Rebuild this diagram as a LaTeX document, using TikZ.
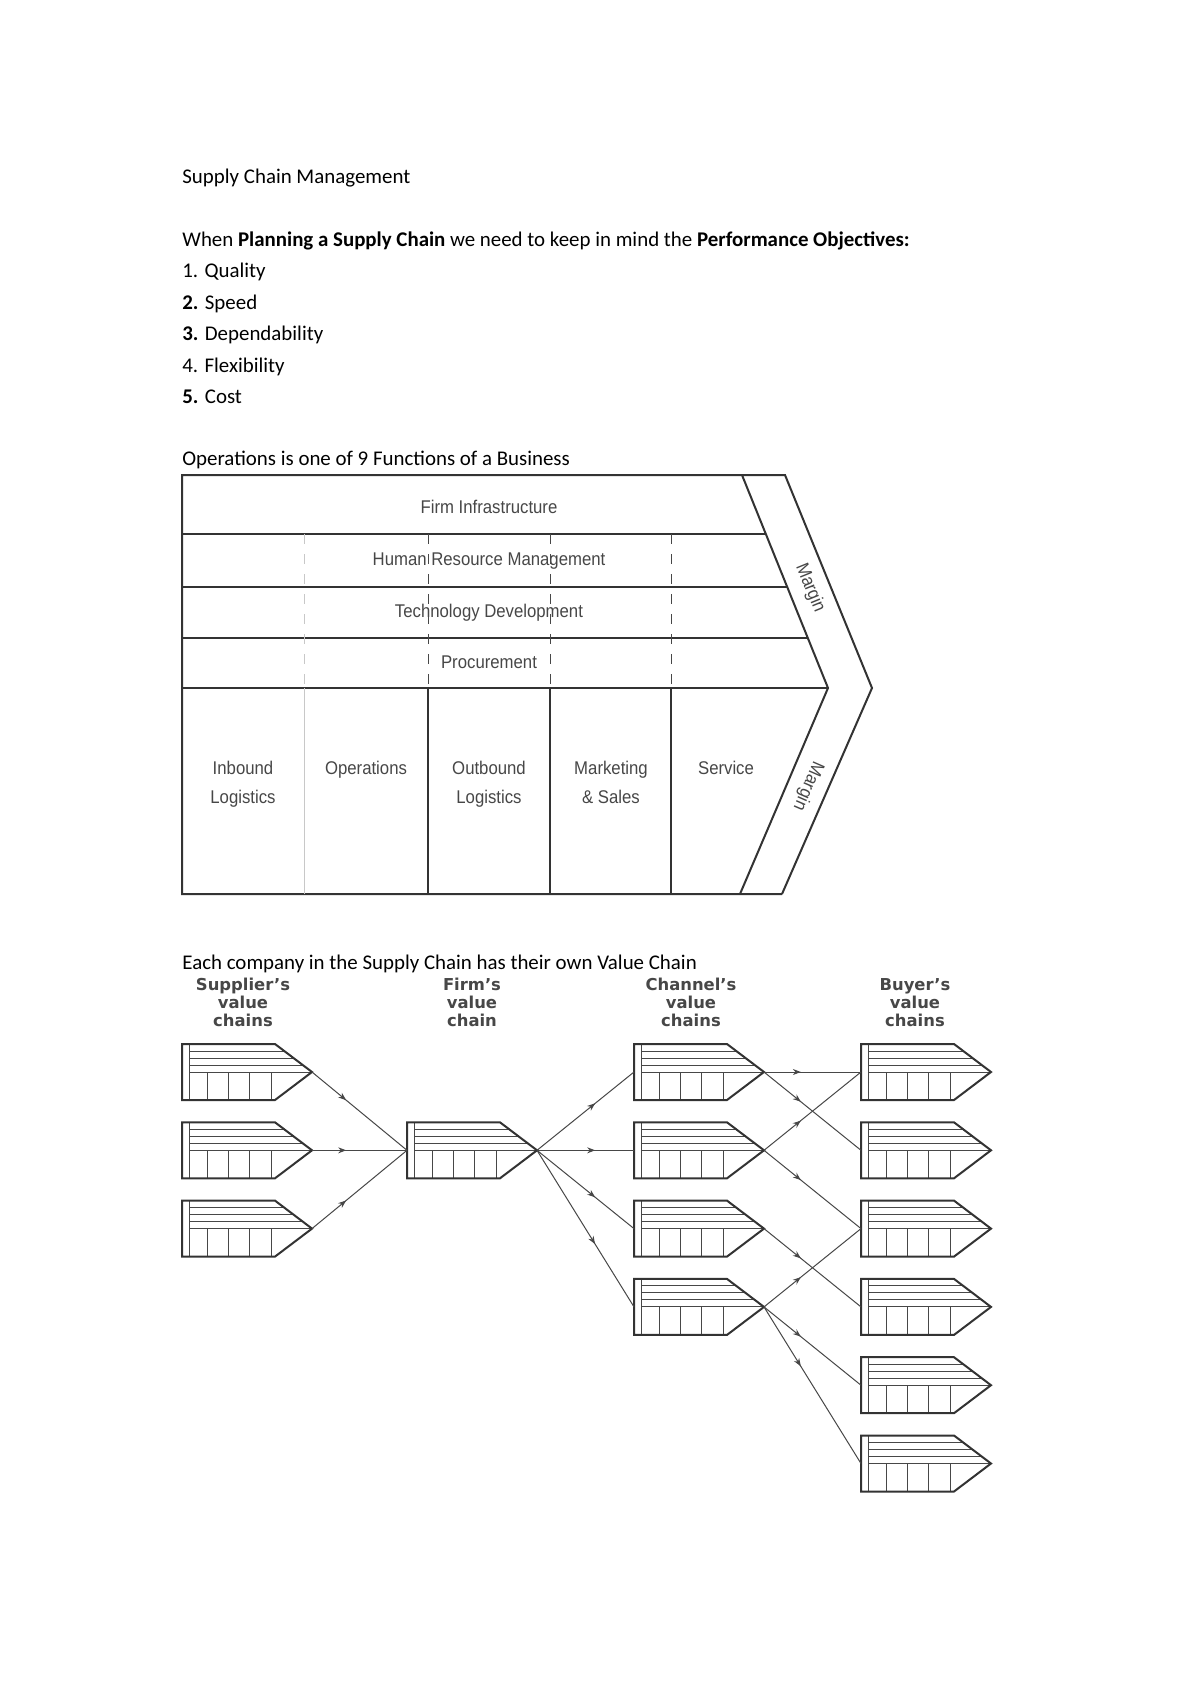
\documentclass[tikz,border=0pt]{standalone}
\usepackage{fontspec}
\setmainfont{Carlito}
\newfontfamily\vcfont[FakeStretch=0.91]{Liberation Sans}
\newfontfamily\hdfont{DejaVu Sans}
\usetikzlibrary{arrows.meta,decorations.markings}
\definecolor{inkgray}{HTML}{333333}
\definecolor{textgray}{HTML}{474747}
\definecolor{palegray}{HTML}{C8C8C8}

\tikzset{
  body/.style={anchor=base west,inner sep=0pt,font=\fontsize{10.45}{12}\selectfont},
  vclabel/.style={anchor=base,inner sep=0pt,align=center,text=textgray,
    font=\vcfont\fontsize{9.2}{14.5}\selectfont},
  header/.style={anchor=base,inner sep=0pt,align=center,text=textgray,
    font=\hdfont\bfseries\fontsize{8.2}{9}\selectfont},
  outline/.style={draw=inkgray,line width=1pt,line join=miter},
  inner/.style={draw=textgray,line width=0.5pt},
  link/.style={draw=textgray,line width=0.5pt,postaction={decorate},
    decoration={markings,mark=at position #1 with {\arrow{Stealth[length=4pt,width=3pt]}}}},
  pics/vchain/.style={code={
    % support rows
    \draw[inner] (7,-21) -- (102.3,-21) (7,-14) -- (111.5,-14) (7,-7) -- (120.8,-7);
    \draw[inner] (7,0) -- (130,0);
    % primary cells
    \foreach \cx in {25,46,67,89} \draw[inner] (\cx,0) -- (\cx,28);
    \draw[inner] (7,-28) -- (7,28);
    \draw[outline] (0,-28) -- (93,-28) -- (130,0) -- (93,28) -- (0,28) -- cycle;
    \coordinate (-in) at (0,0);
    \coordinate (-out) at (130,0);
  }}
}

\begin{document}
\begin{tikzpicture}[x=0.5pt,y=-0.5pt]
  \fill[white] (0,0) rectangle (1200,1698);
  \useasboundingbox (0,0) rectangle (1200,1698);

  % text at the top
  \node[body] (title) at (182,183) {Supply Chain Management};
  \node[body] (plan) at (182,246) {When \textbf{Planning a Supply Chain} we need to keep in mind the \textbf{Performance Objectives:}};
  \node[body] (po1) at (182,277.5) {1. Quality};
  \node[body] (po2) at (182,309) {\textbf{2.} Speed};
  \node[body] (po3) at (182,340.5) {\textbf{3.} Dependability};
  \node[body] (po4) at (182,372) {4. Flexibility};
  \node[body] (po5) at (182,403) {\textbf{5.} Cost};
  \node[body] (ops) at (182,465) {Operations is one of 9 Functions of a Business};

  % Porter value chain
  \draw[outline] (782,894) -- (182,894) -- (182,475) -- (785,475) -- (872,688) -- (782,894);
  \draw[outline] (742,475) -- (828,688) -- (740,894);
  \draw[draw=inkgray,line width=0.8pt] (182,534) -- (765.8,534) (182,587) -- (787.2,587)
    (182,638) -- (807.8,638) (182,688) -- (828,688);
  \draw[draw=palegray,line width=0.5pt] (304,688) -- (304,894);
  \foreach \cx in {428,550,671} \draw[draw=inkgray,line width=0.6pt] (\cx,688) -- (\cx,894);
  \draw[draw=palegray,line width=0.5pt,dash pattern=on 5pt off 5pt] (304,534) -- (304,688);
  \foreach \cx in {428,550,671}
    \draw[draw=textgray,line width=0.5pt,dash pattern=on 5pt off 5pt] (\cx,534) -- (\cx,688);
  \node[vclabel] (infra) at (489,513) {Firm Infrastructure};
  \node[vclabel] (hrm) at (489,565) {Human Resource Management};
  \node[vclabel] (tech) at (489,617) {Technology Development};
  \node[vclabel] (proc) at (489,668) {Procurement};
  \node[vclabel] (inlog) at (243,803) {Inbound\\Logistics};
  \node[vclabel] (oper) at (366,774) {Operations};
  \node[vclabel] (outlog) at (489,803) {Outbound\\Logistics};
  \node[vclabel] (mark) at (611,803) {Marketing\\\& Sales};
  \node[vclabel] (serv) at (726,774) {Service};
  \node[vclabel,anchor=center,rotate=-67.8] (marg1) at (810,588) {Margin};
  \node[vclabel,anchor=center,rotate=-113.5] (marg2) at (808,786) {Margin};

  % value system
  \node[body] (each) at (182,969) {Each company in the Supply Chain has their own Value Chain};
  \node[header] (hsup) at (243,1026) {Supplier’s\\value\\chains};
  \node[header] (hfirm) at (472,1026) {Firm’s\\value\\chain};
  \node[header] (hchan) at (691,1026) {Channel’s\\value\\chains};
  \node[header] (hbuy) at (915,1026) {Buyer’s\\value\\chains};

  \foreach \k in {1,2,3} \pic (s\k) at (182,{1072+78.3*(\k-1)}) {vchain};
  \pic (f) at (407,1150.3) {vchain};
  \foreach \k in {1,...,4} \pic (c\k) at (634,{1072+78.3*(\k-1)}) {vchain};
  \foreach \k in {1,...,6} \pic (b\k) at (861,{1072+78.3*(\k-1)}) {vchain};

  \foreach \k in {1,2,3} \draw[link=0.36] (s\k-out) -- (f-in);
  \foreach \k in {1,...,4} \draw[link=0.6] (f-out) -- (c\k-in);
  \draw[link=0.38] (c1-out) -- (b1-in);
  \draw[link=0.38] (c1-out) -- (b2-in);
  \draw[link=0.38] (c2-out) -- (b1-in);
  \draw[link=0.38] (c2-out) -- (b3-in);
  \draw[link=0.38] (c3-out) -- (b4-in);
  \draw[link=0.38] (c4-out) -- (b3-in);
  \draw[link=0.38] (c4-out) -- (b5-in);
  \draw[link=0.38] (c4-out) -- (b6-in);
\end{tikzpicture}
\end{document}
